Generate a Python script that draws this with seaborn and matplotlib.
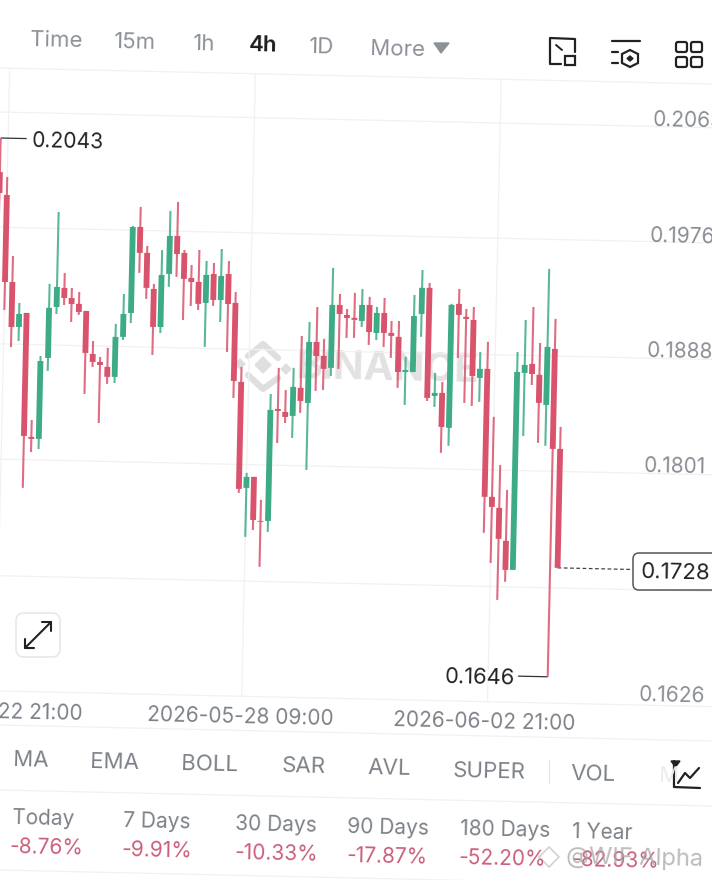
import matplotlib
matplotlib.use('Agg')
import matplotlib.pyplot as plt
import pandas as pd
import seaborn as sns
from matplotlib.patches import FancyBboxPatch, Polygon, Rectangle
from matplotlib.transforms import Affine2D

# 4h candles
opens = [.20177, .20005, .19349, .19011, .19118, .18183, .18169, .18782, .19168, .19313,
         .19238, .19195, .19143, .18819, .18760, .18724, .18650, .18953, .19135, .19786,
         .19591, .19320, .19034, .19436, .19724, .19597, .19409, .19381, .19223, .19443,
         .19248, .19445, .19228, .18633, .17834, .17918, .17587, .17588, .18435, .18413,
         .18385, .18598, .18485, .18947, .18843, .18754, .19230, .19156, .19135, .19113,
         .19235, .19025, .19177, .19028, .18999, .18735, .18736, .19176, .19374, .18559,
         .18583, .18321, .19258, .19161, .19139, .18703, .18772, .17807, .17725, .17477,
         .17259, .18748, .18817, .18736, .18510, .18934, .18180]
closes = [.20019, .19348, .19009, .19109, .18189, .18168, .18757, .19160, .19319, .19237,
          .19193, .19134, .18826, .18759, .18737, .18649, .18952, .19126, .19784, .19590,
          .19327, .19033, .19427, .19723, .19588, .19401, .19379, .19215, .19435, .19247,
          .19429, .19219, .18639, .17825, .17917, .17593, .17580, .18426, .18420, .18376,
          .18604, .18499, .18946, .18841, .18745, .19229, .19162, .19133, .19120, .19234,
          .19031, .19176, .19026, .19005, .18734, .18750, .19159, .19373, .18543, .18582,
          .18326, .19249, .19175, .19146, .18716, .18771, .17806, .17731, .17491, .17258,
          .18754, .18808, .18741, .18524, .18948, .18179, .17282]
highs = [.20434, .20141, .19545, .19192, .19118, .18311, .18795, .19341, .19885, .19426,
         .19314, .19285, .19143, .18917, .18798, .18868, .19050, .19277, .19792, .19937,
         .19644, .19358, .19615, .19912, .19981, .19619, .19507, .19622, .19540, .19526,
         .19633, .19543, .19311, .18746, .17947, .17918, .17746, .18547, .18745, .18579,
         .18748, .18990, .19097, .19211, .18972, .19509, .19313, .19201, .19324, .19355,
         .19296, .19221, .19290, .19118, .19119, .18849, .19318, .19508, .19411, .18733,
         .18666, .19257, .19371, .19221, .19237, .18899, .18976, .18411, .18049, .17862,
         .18905, .19148, .19247, .18977, .19537, .19161, .18346]
lows = [.19777, .19137, .18858, .18905, .17797, .18069, .18093, .18684, .19115, .19184,
        .19057, .19112, .18516, .18721, .18299, .18596, .18604, .18930, .19059, .19439,
        .19244, .18822, .18989, .19338, .19415, .19091, .19198, .19169, .18891, .19202,
        .19082, .18856, .18511, .17795, .17464, .17517, .17240, .17505, .18178, .18330,
        .18219, .18409, .17979, .18577, .18586, .18693, .18747, .18982, .18984, .19068,
        .18933, .18972, .18920, .18839, .18614, .18486, .18736, .19003, .18520, .18476,
        .18130, .18185, .18850, .18511, .18490, .18522, .17534, .17308, .17030, .17168,
        .17259, .18272, .18658, .18222, .18201, .16458, .17282]

price_ticks = [0.2063, 0.1976, 0.1888, 0.1801, 0.1626]
grid_prices = [0.2063, 0.1976, 0.1888, 0.1801, 0.1713, 0.1626]
date_labels = ['2026-05-22 21:00', '2026-05-28 09:00', '2026-06-02 21:00']
date_candles = [1, 34, 67]
intervals = ['Time', '15m', '1h', '4h', '1D', 'More']
indicators = ['MA', 'EMA', 'BOLL', 'SAR', 'AVL', 'SUPER', 'VOL']
periods = ['Today', '7 Days', '30 Days', '90 Days', '180 Days', '1 Year']
changes = ['-8.76%', '-9.91%', '-10.33%', '-17.87%', '-52.20%', '-82.93%']

RED = '#d9536c'
GREEN = '#3dab85'
SLOPE_DEG = 1.26  # the screenshot is tilted a bit

sns.set_theme(style='white')
plt.rcParams['font.family'] = ['Inter', 'DejaVu Sans']
plt.rcParams['lines.solid_capstyle'] = 'butt'

df = pd.DataFrame({'i': range(len(opens)), 'open': opens, 'close': closes, 'high': highs, 'low': lows})
df['side'] = ['up' if c > o else 'down' for o, c in zip(opens, closes)]
wicks = df.melt(id_vars=['i', 'side'], value_vars=['high', 'low'], value_name='price')
bodies = df.melt(id_vars=['i', 'side'], value_vars=['open', 'close'], value_name='price')

fig = plt.figure(figsize=(7.12, 8.8), dpi=100, facecolor='white')


def pixel_axes():
    a = fig.add_axes([0, 0, 1, 1], facecolor='none')
    a.set_xlim(0, 712)
    a.set_ylim(880, 0)
    a.set_axis_off()
    return a


def put(a, x, y, s, size=12.5, color='#858a91', ha='left', **kw):
    a.text(x, y, s, fontsize=size, color=color, ha=ha, va='center',
           rotation=-SLOPE_DEG, rotation_mode='anchor', **kw)


def stroke(a, xs, ys, color='#222222', lw=1.6, **kw):
    a.plot(xs, ys, color=color, lw=lw, solid_capstyle='round', solid_joinstyle='round', **kw)


# faint exchange mark behind the candles
back = pixel_axes()
MARK = '#dfdfdf'
for cx, cy, r in [(263, 365, 8), (240, 364, 5), (286, 369, 5)]:
    back.add_patch(Polygon([(cx - r, cy), (cx, cy - r), (cx + r, cy), (cx, cy + r)], color=MARK))
stroke(back, [248, 263, 278], [356, 344, 358], color=MARK, lw=4.5)
stroke(back, [248, 263, 278], [375, 389, 378], color=MARK, lw=4.5)
put(back, 296, 368, 'BINANCE', size=29, color='#e2e2e2', fontweight='bold')

# candles on price / candle axes
ax = fig.add_axes([0, 0, 1, 1], facecolor='none')
palette = {'up': GREEN, 'down': RED}
sns.lineplot(data=wicks, x='i', y='price', units='i', estimator=None, hue='side', palette=palette,
             linewidth=1.5, alpha=0.85, legend=False, zorder=3, ax=ax)
sns.lineplot(data=bodies, x='i', y='price', units='i', estimator=None, hue='side', palette=palette,
             linewidth=4.2, legend=False, zorder=4, ax=ax)
ax.hlines(grid_prices, -20, 110, color='#f1f1f1', lw=0.9, zorder=1)
ax.vlines(date_candles, 0.1626, 0.2096, color='#f1f1f1', lw=0.9, zorder=1)
ax.plot([0, 3.5], [highs[0], highs[0]], color='#333333', lw=0.9, zorder=2)
ax.plot([75, 71], [lows[75], lows[75]], color='#333333', lw=0.9, zorder=2)
ax.plot([76, 86], [closes[76], closes[76]], color='#444444', lw=0.9, ls=(0, (3, 2)), zorder=2)
ax.set_xlim(-3.7 / 7.45, (712 - 3.7) / 7.45)
ax.set_ylim(0.2063 - (880 - 112) * 7.55e-5, 0.2063 + 112 * 7.55e-5)
ax.set_axis_off()
tilt = Affine2D().rotate_deg_around(0, 880, -SLOPE_DEG)
for artist in list(ax.lines) + list(ax.collections):
    artist.set_transform(artist.get_transform() + tilt)

# everything else sits on a pixel layer
ui = pixel_axes()
for y0, y1 in [(68, 84), (725, 741), (790, 806), (870, 886)]:
    ui.plot([0, 712], [y0, y1], color='#f1f1f1', lw=0.9)

for x, y, s in zip([30, 114, 193, 249, 309, 370], [40, 42, 44, 45, 47, 49], intervals):
    active = s == '4h'
    put(ui, x, y, s, size=16, color='#1c1c1c' if active else '#8d9198', fontweight='semibold' if active else 'normal')
ui.add_patch(Polygon([(434, 43), (449, 43), (441, 53)], color='#8d9198'))

# toolbar icons
stroke(ui, [575, 575, 550, 550, 561], [52, 39, 38, 64, 64])
ui.add_patch(Rectangle((565, 56), 10, 9, fill=False, ec='#222222', lw=1.6))
stroke(ui, [556, 562], [45, 50], lw=1.4)
stroke(ui, [612, 640], [41, 41])
stroke(ui, [612, 618], [52, 52])
stroke(ui, [612, 618], [63, 63])
ui.add_patch(Polygon([(630, 50), (638, 54), (638, 63), (630, 67), (622, 63), (622, 54)], fill=False, ec='#222222', lw=1.6))
ui.add_patch(Polygon([(630, 56), (633, 58.5), (630, 61), (627, 58.5)], color='#222222'))
for x, y in [(676, 42), (691, 42), (676, 57), (691, 57)]:
    ui.add_patch(FancyBboxPatch((x, y), 11, 10, boxstyle='round,pad=0,rounding_size=2', fill=False, ec='#222222', lw=1.6))

put(ui, 32, 141, '0.2043', size=15.2, color='#222222')
put(ui, 445, 677, '0.1646', size=15.8, color='#222222')
for x, y, s in zip([653, 650, 647, 644, 639], [120, 236, 351, 466, 695], price_ticks):
    put(ui, x, y, f'{s:.4f}', size=15, color='#8a8e94')
for x, y, s in zip([-99, 147, 393], [710, 715, 720], date_labels):
    put(ui, x, y, s, size=15, color='#7d8288')

# last price tag
ui.add_patch(FancyBboxPatch((633, 553), 95, 37, boxstyle='round,pad=0,rounding_size=6', fc='white', ec='#555555', lw=1.1))
put(ui, 641, 572, '0.1728', size=16, color='#222222')

# expand button
ui.add_patch(FancyBboxPatch((16, 613), 44, 44, boxstyle='round,pad=0,rounding_size=8', fc='white', ec='#e8e8e8', lw=1.2))
stroke(ui, [25, 51], [648, 622], lw=1.5)
stroke(ui, [42, 51, 51], [622, 622, 631], lw=1.5)
stroke(ui, [25, 25, 34], [639, 648, 648], lw=1.5)

for x, y, s in zip([13, 90, 181, 282, 368, 453, 571], [760, 762, 764, 766, 768, 771, 774], indicators):
    put(ui, x, y, s, size=16, color='#7d8288')
ui.plot([549, 549], [760, 783], color='#e6e6e6', lw=0.9)
put(ui, 659, 776, 'M', size=16, color='#ececec')

# indicator icon
stroke(ui, [674, 674, 700], [761, 787, 788])
stroke(ui, [678, 685, 690, 699], [783, 773, 778, 768])
ui.add_patch(Polygon([(671, 761), (680, 761), (675.5, 767)], color='#222222'))

for x, y, s in zip([12, 123, 235, 347, 460, 572], [818, 821, 824, 827, 829, 832], periods):
    put(ui, x, y, s, size=15, color='#7d8288')
for x, y, s in zip([10, 122, 235, 347, 459, 572], [847, 850, 853, 856, 858, 860], changes):
    put(ui, x, y, s, size=15, color='#c9607b')

# repost watermark
ui.add_patch(Polygon([(539, 857), (549, 847), (559, 857), (549, 867)], fill=False, ec='#cfcfcf', lw=1.1))
put(ui, 566, 857, '@WIF Alpha', size=17, color='#a5a5a5', alpha=0.75)

fig.savefig('out.png', dpi=100)
plt.close(fig)
